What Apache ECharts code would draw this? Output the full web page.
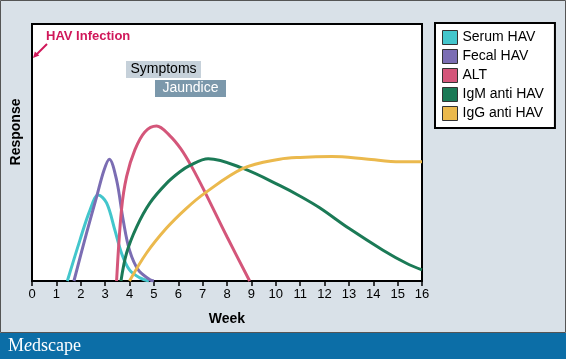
<!DOCTYPE html>
<html>
<head>
<meta charset="utf-8">
<script src="https://cdn.jsdelivr.net/npm/echarts@6/dist/echarts.min.js"></script>
<style>html,body{margin:0;padding:0;background:#d9e1e8;}#c{width:566px;height:359px;}</style>
</head>
<body>
<div id="c"></div>
<script>
var seriesNames = ['Serum HAV', 'Fecal HAV', 'ALT', 'IgM anti HAV', 'IgG anti HAV'];
var weekTicks = ['0','1','2','3','4','5','6','7','8','9','10','11','12','13','14','15','16'];

var serumWeeks  = [1.45, 1.97, 2.38, 2.72, 3.06, 3.4, 3.67, 4.0, 4.43, 4.8];
var serumValues = [0, 16, 27.6, 33.5, 30.4, 19.8, 10.9, 4.3, 1.2, 0];

var fecalWeeks  = [1.72, 2.24, 2.65, 2.95, 3.17, 3.47, 3.74, 4.0, 4.36, 4.84, 5.0];
var fecalValues = [0, 18.7, 32.7, 43, 47.4, 39.3, 23.7, 12, 4.3, 0.5, 0];

var altWeeks  = [3.47, 3.67, 3.88, 4.22, 4.63, 5.11, 5.66, 6.1, 6.55, 7.09, 8.0, 8.93];
var altValues = [0, 27.6, 40.6, 51, 58, 60.3, 56.5, 51.5, 44.5, 34.7, 17.2, 0];

var igmWeeks  = [3.65, 3.88, 4.29, 4.84, 5.52, 6.07, 6.48, 7.23, 8.66, 10.16, 11.0, 11.8, 13.0, 14.4, 15.36, 16];
var igmValues = [0, 10.9, 21, 30.4, 38, 42.5, 45, 47.6, 43.8, 37.2, 33, 28.5, 20.5, 12, 6.9, 4.3];

var iggWeeks  = [4.0, 4.7, 5.52, 6.3, 7.09, 8.66, 10.16, 11.0, 12.3, 13.7, 15.1, 16];
var iggValues = [0, 10.9, 20.6, 28, 34.2, 43.8, 47.4, 48.1, 48.4, 47.5, 46.4, 46.4];

var colors = ['#43c6cc', '#7b6db3', '#d4567a', '#1b7a56', '#ebb94d'];

function zip(w, v) { return w.map(function (x, i) { return [x, v[i]]; }); }
var allData = [zip(serumWeeks, serumValues), zip(fecalWeeks, fecalValues), zip(altWeeks, altValues),
               zip(igmWeeks, igmValues), zip(iggWeeks, iggValues)];

var FONT = 'Liberation Sans, Arial, sans-serif';
var chart = echarts.init(document.getElementById('c'));

var option = {
  backgroundColor: '#d9e1e8',
  animation: false,
  color: colors,
  grid: { left: 32, top: 24, right: 144, bottom: 78, show: true, backgroundColor: '#ffffff', borderColor: '#000', borderWidth: 2 },
  xAxis: {
    type: 'value', min: 0, max: 16, interval: 1,
    axisLine: { lineStyle: { color: '#000', width: 2 } },
    axisTick: { show: true, length: 5, lineStyle: { color: '#000', width: 1.5 } },
    axisLabel: { color: '#000', fontSize: 13, fontFamily: FONT, margin: 7,
      formatter: function (v) { return weekTicks[Math.round(v)]; } },
    splitLine: { show: false },
    name: 'Week', nameLocation: 'middle', nameGap: 31,
    nameTextStyle: { color: '#000', fontSize: 14, fontWeight: 'bold', fontFamily: FONT }
  },
  yAxis: {
    type: 'value', min: 0, max: 100,
    axisLine: { show: true, lineStyle: { color: '#000', width: 2 } },
    axisTick: { show: false }, axisLabel: { show: false }, splitLine: { show: false }
  },
  legend: {
    orient: 'vertical', left: 435, top: 23,
    padding: [7, 11, 7, 7],
    backgroundColor: '#fff', borderColor: '#000', borderWidth: 2,
    itemWidth: 15, itemHeight: 14, itemGap: 4, itemTextGap: 6,
    icon: 'rect',
    itemStyle: { borderColor: '#333', borderWidth: 1 },
    textStyle: { color: '#000', fontSize: 14, fontFamily: FONT },
    data: seriesNames
  },
  series: seriesNames.map(function (n, i) {
    return {
      name: n, type: 'line', data: allData[i], smooth: 0.35, showSymbol: false, symbol: 'none',
      lineStyle: { width: 3, color: colors[i] }, itemStyle: { color: colors[i] }
    };
  }),
  graphic: [
    { type: 'rect', shape: { x: 0.5, y: 0.5, width: 565, height: 332 }, style: { fill: 'none', stroke: '#555', lineWidth: 1 }, z: 100 },
    { type: 'rect', shape: { x: 0, y: 333, width: 566, height: 26 }, style: { fill: '#0c6ea7' }, z: 100 },
    { type: 'text', x: 8, y: 346, z: 101, style: { text: 'M{i|e}dscape', fill: '#fff', font: '18px "Liberation Serif", "DejaVu Serif", serif', textVerticalAlign: 'middle',
      rich: { i: { fontStyle: 'italic', fontSize: 18, fontFamily: 'Liberation Serif', fill: '#fff' } } } },
    { type: 'text', x: 16, y: 132, rotation: Math.PI / 2, z: 101,
      style: { text: 'Response', fill: '#000', font: 'bold 14px ' + FONT, textAlign: 'center', textVerticalAlign: 'middle' } },
    { type: 'text', x: 46, y: 36, z: 101,
      style: { text: 'HAV Infection', fill: '#d0185a', font: 'bold 13px ' + FONT, textVerticalAlign: 'middle' } },
    { type: 'line', z: 101, shape: { x1: 47, y1: 44, x2: 36.5, y2: 54.5 }, style: { stroke: '#d0185a', lineWidth: 2 } },
    { type: 'polygon', z: 101, shape: { points: [[33, 58], [39.3, 55.6], [34.9, 51.6]] }, style: { fill: '#d0185a' } },
    { type: 'rect', z: 101, shape: { x: 126, y: 61, width: 75, height: 17 }, style: { fill: '#c6d1da' } },
    { type: 'text', x: 163.5, y: 69.5, z: 102,
      style: { text: 'Symptoms', fill: '#000', font: '14px ' + FONT, textAlign: 'center', textVerticalAlign: 'middle' } },
    { type: 'rect', z: 101, shape: { x: 155, y: 80, width: 71, height: 17 }, style: { fill: '#7b98ab' } },
    { type: 'text', x: 190.5, y: 88.5, z: 102,
      style: { text: 'Jaundice', fill: '#fff', font: '14px ' + FONT, textAlign: 'center', textVerticalAlign: 'middle' } }
  ]
};
chart.setOption(option);
</script>
</body>
</html>
